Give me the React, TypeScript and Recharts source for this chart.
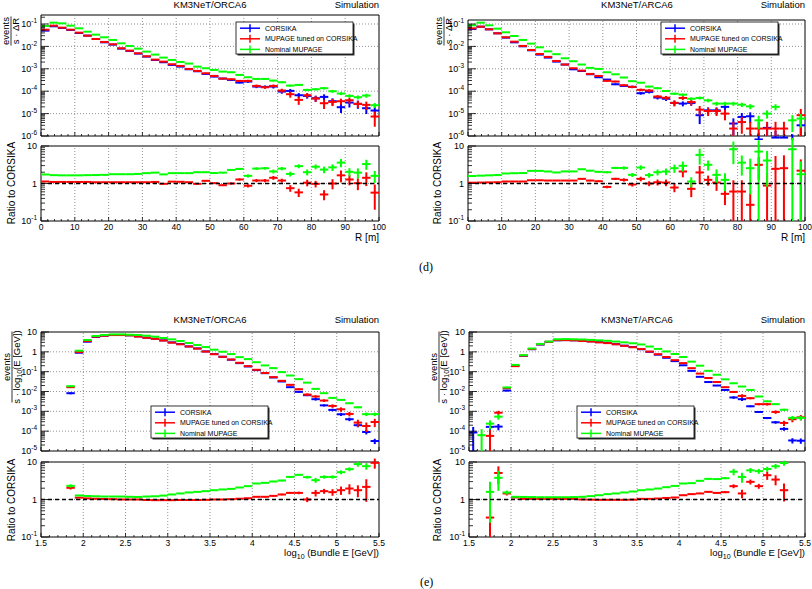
import React from "react";
import { ScatterChart, Scatter, XAxis, YAxis, ErrorBar, ReferenceLine, ReferenceArea } from "recharts";

const FONT = "'Liberation Sans', Arial, sans-serif";
const BLUE = "#0000ff";
const RED = "#ff0000";
const GREEN = "#00ff00";

// bin centres
const rCenters = [1.25, 3.75, 6.25, 8.75, 11.25, 13.75, 16.25, 18.75, 21.25, 23.75, 26.25, 28.75, 31.25, 33.75, 36.25, 38.75, 41.25, 43.75, 46.25, 48.75, 51.25, 53.75, 56.25, 58.75, 61.25, 63.75, 66.25, 68.75, 71.25, 73.75, 76.25, 78.75, 81.25, 83.75, 86.25, 88.75, 91.25, 93.75, 96.25, 98.75];
const eCenters = [1.55, 1.65, 1.75, 1.85, 1.95, 2.05, 2.15, 2.25, 2.35, 2.45, 2.55, 2.65, 2.75, 2.85, 2.95, 3.05, 3.15, 3.25, 3.35, 3.45, 3.55, 3.65, 3.75, 3.85, 3.95, 4.05, 4.15, 4.25, 4.35, 4.45, 4.55, 4.65, 4.75, 4.85, 4.95, 5.05, 5.15, 5.25, 5.35, 5.45];

// axis ticks
const rMajor = [0, 10, 20, 30, 40, 50, 60, 70, 80, 90, 100];
const eMajor = [1.5, 2, 2.5, 3, 3.5, 4, 4.5, 5, 5.5];

// ---- ORCA6, lateral distance R ----
const orcaRCorsika = [0.0505, 0.0787, 0.0663, 0.0541, 0.0397, 0.0302, 0.0214, 0.0152, 0.012, 0.00795, 0.00626, 0.00476, 0.0035, 0.00248, 0.00196, 0.00149, 0.00125, 0.000953, 0.000776, 0.00059, 0.000449, 0.000366, 0.000319, 0.000243, 0.000269, 0.000161, 0.000156, 0.000161, 9.64e-5, 0.000103, 6.61e-5, 6.17e-5, 4.86e-5, 5.57e-5, 3.57e-5, 1.93e-5, 3.11e-5, 2.72e-5, 1.74e-5, 1.37e-5];
const orcaRTuned = [0.0559, 0.0843, 0.0687, 0.0559, 0.0411, 0.0302, 0.0214, 0.0158, 0.0124, 0.00822, 0.00648, 0.00492, 0.00362, 0.00257, 0.00209, 0.00159, 0.00134, 0.000986, 0.000803, 0.000632, 0.000481, 0.000366, 0.000341, 0.000288, 0.000288, 0.000172, 0.00015, 0.000172, 0.000107, 7.33e-5, 4.09e-5, 6.61e-5, 4.7e-5, 2.91e-5, 3.33e-5, 3.57e-5, 3.95e-5, 2.72e-5, 2.45e-5, 7.4e-6];
const orcaRNominal = [0.0815, 0.1146, 0.107, 0.0843, 0.0641, 0.0455, 0.0335, 0.0255, 0.0194, 0.0137, 0.01045, 0.00795, 0.00585, 0.0043, 0.00316, 0.00248, 0.00202, 0.00171, 0.00125, 0.00106, 0.00089, 0.00075, 0.0007, 0.000533, 0.000419, 0.000353, 0.000353, 0.000298, 0.000251, 0.000178, 0.000191, 0.000114, 0.000122, 0.000136, 9.97e-5, 7.85e-5, 6.17e-5, 5.38e-5, 6.39e-5, 2.37e-5];
const orcaRErrCorsika = [0.02, 0.02, 0.02, 0.02, 0.02, 0.02, 0.02, 0.02, 0.02, 0.02, 0.02, 0.02, 0.02, 0.02, 0.02, 0.02, 0.03, 0.03, 0.04, 0.05, 0.06, 0.07, 0.08, 0.09, 0.12, 0.15, 0.15, 0.18, 0.2, 0.22, 0.25, 0.25, 0.3, 0.3, 0.35, 0.45, 0.4, 0.4, 0.45, 0.5];
const orcaRErrTuned = [0.02, 0.02, 0.02, 0.02, 0.02, 0.02, 0.02, 0.02, 0.02, 0.02, 0.02, 0.02, 0.02, 0.02, 0.02, 0.02, 0.03, 0.03, 0.04, 0.05, 0.06, 0.07, 0.08, 0.09, 0.12, 0.15, 0.15, 0.15, 0.2, 0.3, 0.4, 0.25, 0.3, 0.45, 0.35, 0.3, 0.3, 0.35, 0.4, 0.65];
const orcaRErrNominal = [0.01, 0.01, 0.01, 0.01, 0.01, 0.01, 0.01, 0.01, 0.01, 0.01, 0.01, 0.01, 0.01, 0.01, 0.01, 0.01, 0.02, 0.02, 0.02, 0.03, 0.03, 0.04, 0.04, 0.05, 0.06, 0.07, 0.07, 0.08, 0.09, 0.1, 0.1, 0.12, 0.12, 0.12, 0.15, 0.15, 0.18, 0.2, 0.2, 0.25];
const orcaRRatioTuned = [1.13, 1.1, 1.1, 1.1, 1.1, 1.1, 1.08, 1.08, 1.08, 1.08, 1.08, 1.08, 1.08, 1.1, 0.98, 1.12, 1.11, 1.08, 0.98, 1.18, 1.02, 0.9, 1.0, 1.28, 0.87, 1.2, 1.2, 1.42, 1.2, 0.75, 0.58, 1.05, 0.98, 0.51, 1.0, 1.65, 1.28, 1.02, 1.42, 0.57];
const orcaRRatioNominal = [1.74, 1.67, 1.65, 1.65, 1.65, 1.67, 1.68, 1.7, 1.77, 1.77, 1.77, 1.8, 1.89, 1.95, 1.75, 1.89, 1.89, 1.89, 2.0, 2.0, 1.9, 1.95, 2.3, 2.45, 1.6, 2.5, 2.55, 2.1, 2.5, 1.8, 2.9, 2.0, 2.8, 2.35, 2.7, 3.6, 2.05, 1.95, 3.3, 1.6];
const orcaRRatioErrTuned = [0.01, 0.01, 0.01, 0.01, 0.01, 0.01, 0.01, 0.01, 0.01, 0.01, 0.01, 0.01, 0.02, 0.02, 0.02, 0.02, 0.02, 0.02, 0.03, 0.03, 0.04, 0.05, 0.06, 0.07, 0.1, 0.1, 0.1, 0.12, 0.12, 0.2, 0.25, 0.2, 0.2, 0.3, 0.3, 0.35, 0.3, 0.35, 0.4, 0.65];
const orcaRRatioErrNominal = [0.01, 0.01, 0.01, 0.01, 0.01, 0.01, 0.01, 0.01, 0.01, 0.01, 0.01, 0.01, 0.02, 0.02, 0.02, 0.02, 0.02, 0.02, 0.03, 0.03, 0.04, 0.04, 0.05, 0.06, 0.1, 0.08, 0.08, 0.12, 0.1, 0.15, 0.12, 0.18, 0.15, 0.2, 0.2, 0.25, 0.25, 0.3, 0.3, 0.35];

// ---- ARCA6, lateral distance R ----
const arcaRCorsika = [0.0598, 0.076, 0.0578, 0.0384, 0.0246, 0.0152, 0.0101, 0.0067, 0.0043, 0.00316, 0.00209, 0.00155, 0.00095, 0.0008, 0.00057, 0.00042, 0.00033, 0.000204, 0.000172, 0.000156, 8.12e-5, 9.33e-5, 5.2e-5, 4.6e-5, 3.0e-5, 2.8e-5, 3.0e-5, 8.5e-6, 1.4e-5, 1.4e-5, 2.0e-5, 3.6e-6, 7.1e-6, 7.6e-6, 7e-7, 2.3e-6, 8.5e-7, 8.5e-7, 6e-7, 3.0e-6];
const arcaRTuned = [0.064, 0.076, 0.0578, 0.0384, 0.0255, 0.0163, 0.0105, 0.0069, 0.0046, 0.0034, 0.00224, 0.00155, 0.00106, 0.00083, 0.00059, 0.00048, 0.00029, 0.00027, 0.000185, 0.000156, 0.000115, 0.000107, 5.8e-5, 5.1e-5, 3.0e-5, 5.0e-5, 3.3e-5, 1.5e-5, 1.3e-5, 1.3e-5, 1.0e-5, 2.15e-6, 4.2e-6, 2.15e-6, 2.15e-6, 2.15e-6, 2.15e-6, 2.15e-6, null, 8.5e-6];
const arcaRNominal = [0.0873, 0.1147, 0.0873, 0.062, 0.0426, 0.0292, 0.0194, 0.0133, 0.0091, 0.006, 0.0045, 0.00295, 0.00218, 0.00155, 0.0011, 0.00099, 0.0007, 0.00057, 0.00041, 0.00028, 0.00024, 0.000161, 0.000136, 0.000102, 7.7e-5, 7.0e-5, 4.6e-5, 5.0e-5, 3.9e-5, 2.8e-5, 2.8e-5, 2.8e-5, 2.5e-5, 2.1e-5, 5.0e-6, 1.0e-5, 2.0e-5, null, 5.0e-6, 6.0e-6];
const arcaRErrCorsika = [0.02, 0.02, 0.02, 0.02, 0.02, 0.02, 0.02, 0.02, 0.02, 0.02, 0.02, 0.02, 0.03, 0.04, 0.05, 0.06, 0.07, 0.08, 0.1, 0.12, 0.14, 0.15, 0.18, 0.2, 0.25, 0.25, 0.25, 0.6, 0.35, 0.35, 0.3, 0.7, 0.5, 0.5, 1, 0.7, 1, 1, 1, 0.7];
const arcaRErrTuned = [0.02, 0.02, 0.02, 0.02, 0.02, 0.02, 0.02, 0.02, 0.02, 0.02, 0.02, 0.02, 0.03, 0.04, 0.05, 0.06, 0.07, 0.08, 0.1, 0.12, 0.13, 0.15, 0.16, 0.2, 0.3, 0.2, 0.3, 0.45, 0.4, 0.4, 0.5, 1, 0.7, 1, 1, 1, 1, 1, 0, 0.9];
const arcaRErrNominal = [0.01, 0.01, 0.01, 0.01, 0.01, 0.01, 0.01, 0.01, 0.01, 0.01, 0.01, 0.01, 0.02, 0.02, 0.03, 0.03, 0.04, 0.04, 0.05, 0.06, 0.07, 0.08, 0.09, 0.1, 0.12, 0.12, 0.15, 0.15, 0.18, 0.2, 0.2, 0.2, 0.22, 0.25, 0.6, 0.4, 0.3, 0, 0.7, 0.6];
const arcaRRatioTuned = [1.05, 1.06, 1.07, 1.08, 1.13, 1.13, 1.13, 1.22, 1.22, 1.2, 1.2, 1.2, 1.2, 1.33, 1.2, 1.15, 0.81, 1.33, 1.25, 0.94, 1.33, 1.0, 1.08, 1.06, 0.78, 2.09, 0.72, 1.97, 1.25, 1.06, 0.53, 0.61, 0.61, 0.27, 3.15, 0.88, 2.46, 2.56, null, 2.2];
const arcaRRatioNominal = [1.58, 1.62, 1.65, 1.68, 1.85, 1.88, 1.9, 2.17, 2.17, 2.09, 1.97, 2.1, 2.1, 2.4, 2.2, 2.05, 2.0, 2.6, 2.6, 1.7, 2.67, 1.67, 2.0, 2.09, 2.56, 2.96, 1.13, 5.8, 3.15, 1.7, 1.25, 8.2, 3.6, 2.56, 7.1, 4.1, null, null, 8.2, 1.77];
const arcaRRatioErrTuned = [0.02, 0.02, 0.02, 0.02, 0.02, 0.02, 0.02, 0.02, 0.02, 0.02, 0.02, 0.02, 0.03, 0.03, 0.04, 0.05, 0.08, 0.07, 0.1, 0.12, 0.14, 0.15, 0.18, 0.2, 0.25, 0.3, 0.4, 0.5, 0.3, 0.4, 0.5, 1, 1, 1, 0.6, 1, 1.2, 1.2, 0, 1];
const arcaRRatioErrNominal = [0.02, 0.02, 0.02, 0.02, 0.02, 0.02, 0.02, 0.02, 0.02, 0.02, 0.02, 0.02, 0.03, 0.03, 0.04, 0.05, 0.06, 0.07, 0.1, 0.12, 0.14, 0.15, 0.18, 0.2, 0.25, 0.3, 0.3, 0.45, 0.3, 0.4, 0.5, 0.6, 0.55, 0.8, 1, 0.8, 0, 0, 1, 1.2];

// ---- ORCA6, bundle energy ----
const orcaECorsika = [null, null, null, 0.0082, 0.9, 3.24, 5.58, 6.5, 7.05, 7.05, 6.8, 6.0, 5.2, 4.6, 3.8, 3.0, 2.47, 1.88, 1.49, 1.05, 0.77, 0.565, 0.4, 0.27, 0.183, 0.12, 0.084, 0.051, 0.032, 0.0165, 0.0096, 0.0065, 0.0041, 0.002, 0.00118, 0.00071, 0.0004, 0.0002, 9.1e-5, 3.18e-5];
const orcaETuned = [null, null, null, 0.0165, 0.97, 3.5, 5.8, 6.5, 7.0, 7.0, 6.8, 5.9, 5.1, 4.5, 3.7, 2.9, 2.4, 1.85, 1.45, 1.03, 0.76, 0.56, 0.41, 0.28, 0.19, 0.124, 0.086, 0.053, 0.0345, 0.0217, 0.013, 0.007, 0.0056, 0.0035, 0.00187, 0.00127, 0.00074, 0.00027, 0.000182, 0.00029];
const orcaENominal = [null, null, null, 0.0185, 1.14, 3.94, 6.3, 7.05, 7.6, 7.6, 7.3, 7.05, 6.5, 5.8, 4.97, 4.25, 3.5, 2.78, 2.2, 1.74, 1.28, 1.01, 0.77, 0.54, 0.43, 0.3, 0.206, 0.151, 0.095, 0.064, 0.042, 0.028, 0.0136, 0.0082, 0.00476, 0.00378, 0.00256, 0.0016, 0.00072, 0.00072];
const orcaEErrCorsika = [0, 0, 0, 0.12, 0.02, 0.01, 0.01, 0.01, 0.01, 0.01, 0.01, 0.01, 0.01, 0.01, 0.01, 0.01, 0.01, 0.01, 0.01, 0.01, 0.01, 0.01, 0.01, 0.01, 0.01, 0.02, 0.03, 0.04, 0.05, 0.06, 0.08, 0.1, 0.15, 0.12, 0.15, 0.18, 0.2, 0.22, 0.25, 0.3];
const orcaEErrTuned = [0, 0, 0, 0.08, 0.02, 0.01, 0.01, 0.01, 0.01, 0.01, 0.01, 0.01, 0.01, 0.01, 0.01, 0.01, 0.01, 0.01, 0.01, 0.01, 0.01, 0.01, 0.01, 0.01, 0.01, 0.02, 0.03, 0.04, 0.05, 0.07, 0.1, 0.15, 0.15, 0.15, 0.2, 0.25, 0.25, 0.4, 0.5, 0.45];
const orcaEErrNominal = [0, 0, 0, 0.06, 0.01, 0.01, 0.01, 0.01, 0.01, 0.01, 0.01, 0.01, 0.01, 0.01, 0.01, 0.01, 0.01, 0.01, 0.01, 0.01, 0.01, 0.01, 0.01, 0.01, 0.01, 0.01, 0.02, 0.02, 0.03, 0.03, 0.04, 0.05, 0.05, 0.06, 0.07, 0.08, 0.08, 0.1, 0.2, 0.2];
const orcaERatioTuned = [null, null, null, 2.05, 1.12, 1.07, 1.05, 1.03, 1.02, 1.0, 1.0, 1.0, 0.97, 0.96, 0.96, 0.96, 0.97, 0.97, 0.97, 0.98, 1.0, 1.0, 1.02, 1.05, 1.08, 1.18, 1.18, 1.25, 1.36, 1.5, 1.5, 1.0, 1.5, 1.67, 1.57, 1.77, 1.96, 1.77, 2.17, 9.5];
const orcaERatioNominal = [null, null, null, 2.31, 1.28, 1.24, 1.22, 1.2, 1.2, 1.2, 1.18, 1.17, 1.2, 1.22, 1.27, 1.36, 1.45, 1.54, 1.6, 1.67, 1.77, 1.85, 1.92, 2.09, 2.27, 2.67, 2.78, 3.02, 3.21, 4.0, 4.55, 3.94, 3.28, 4.0, 4.0, 5.35, 6.45, 8.8, 7.75, null];
const orcaERatioErrTuned = [0, 0, 0, 0.1, 0.02, 0.01, 0.01, 0.01, 0.01, 0.01, 0.01, 0.01, 0.01, 0.01, 0.01, 0.01, 0.01, 0.01, 0.01, 0.01, 0.01, 0.01, 0.01, 0.01, 0.01, 0.02, 0.03, 0.04, 0.05, 0.06, 0.08, 0.15, 0.2, 0.15, 0.2, 0.25, 0.3, 0.35, 0.6, 0.3];
const orcaERatioErrNominal = [0, 0, 0, 0.1, 0.02, 0.01, 0.01, 0.01, 0.01, 0.01, 0.01, 0.01, 0.01, 0.01, 0.01, 0.01, 0.01, 0.01, 0.01, 0.01, 0.01, 0.01, 0.01, 0.01, 0.01, 0.02, 0.03, 0.04, 0.05, 0.05, 0.06, 0.08, 0.15, 0.1, 0.1, 0.12, 0.12, 0.15, 0.2, 0];

// ---- ARCA6, bundle energy ----
const arcaECorsika = [8.6e-5, null, 1.65e-4, 1.7e-4, 0.0112, 0.2, 0.63, 1.36, 2.33, 3.16, 3.8, 3.9, 3.8, 3.6, 3.4, 3.1, 2.85, 2.45, 2.05, 1.75, 1.35, 1.0, 0.72, 0.5, 0.34, 0.21, 0.11, 0.055, 0.03, 0.02, 0.012, 0.005, 0.0041, 0.0018, 0.00093, 0.00046, 0.00028, 0.00013, 3.4e-5, 3.3e-5];
const arcaETuned = [null, null, 5.8e-5, 8.5e-4, 0.0147, 0.19, 0.64, 1.38, 2.4, 3.2, 3.9, 3.9, 3.8, 3.5, 3.3, 3.0, 2.75, 2.4, 2.0, 1.7, 1.38, 1.03, 0.76, 0.55, 0.38, 0.27, 0.15, 0.08, 0.048, 0.03, 0.0165, 0.0095, 0.006, 0.0046, 0.0023, 0.0023, 0.00093, 0.00026, 0.0004, 0.0005];
const arcaENominal = [null, 6.3e-5, 2.4e-4, 5.4e-4, 0.016, 0.22, 0.68, 1.47, 2.5, 3.3, 4.3, 4.4, 4.3, 4.2, 4.0, 3.8, 3.6, 3.3, 3.0, 2.7, 2.35, 1.85, 1.4, 1.05, 0.78, 0.55, 0.32, 0.2, 0.11, 0.07, 0.041, 0.026, 0.0178, 0.012, 0.0056, 0.0032, 0.0023, 0.0012, 0.00047, 0.00047];
const arcaEErrCorsika = [0.9, 0, 0.35, 0.35, 0.1, 0.02, 0.01, 0.01, 0.01, 0.01, 0.01, 0.01, 0.01, 0.01, 0.01, 0.01, 0.01, 0.01, 0.01, 0.01, 0.01, 0.01, 0.01, 0.01, 0.01, 0.02, 0.03, 0.04, 0.05, 0.06, 0.08, 0.15, 0.2, 0.1, 0.1, 0.12, 0.15, 0.2, 0.3, 0.3];
const arcaEErrTuned = [0, 0, 1, 0.25, 0.08, 0.03, 0.01, 0.01, 0.01, 0.01, 0.01, 0.01, 0.01, 0.01, 0.01, 0.01, 0.01, 0.01, 0.01, 0.01, 0.01, 0.01, 0.01, 0.01, 0.01, 0.02, 0.03, 0.04, 0.05, 0.06, 0.08, 0.12, 0.2, 0.12, 0.12, 0.15, 0.2, 0.3, 0.3, 0.3];
const arcaEErrNominal = [0, 1, 0.5, 0.3, 0.08, 0.02, 0.01, 0.01, 0.01, 0.01, 0.01, 0.01, 0.01, 0.01, 0.01, 0.01, 0.01, 0.01, 0.01, 0.01, 0.01, 0.01, 0.01, 0.01, 0.01, 0.01, 0.02, 0.02, 0.03, 0.03, 0.04, 0.05, 0.06, 0.06, 0.07, 0.08, 0.1, 0.12, 0.25, 0.25];
const arcaERatioTuned = [null, null, 0.33, 5.1, 1.45, 1.13, 1.04, 1.04, 1.04, 1.04, 1.04, 1.04, 1.04, 1.0, 0.99, 0.98, 0.98, 0.98, 0.98, 0.99, 1.04, 1.04, 1.06, 1.1, 1.13, 1.3, 1.39, 1.45, 1.6, 1.5, 1.57, 2.27, 1.45, 2.96, 2.27, 4.45, 3.4, 1.77, null, null];
const arcaERatioNominal = [null, null, 1.6, 3.78, 1.54, 1.18, 1.17, 1.16, 1.15, 1.15, 1.15, 1.15, 1.16, 1.18, 1.23, 1.3, 1.39, 1.45, 1.54, 1.63, 1.77, 1.85, 1.96, 2.13, 2.3, 2.67, 2.73, 3.15, 3.55, 3.5, 3.7, 5.5, 4.0, 6.0, 5.7, 6.5, 7.7, 9.4, null, null];
const arcaERatioErrTuned = [0, 0, 1, 0.5, 0.12, 0.03, 0.01, 0.01, 0.01, 0.01, 0.01, 0.01, 0.01, 0.01, 0.01, 0.01, 0.01, 0.01, 0.01, 0.01, 0.01, 0.01, 0.01, 0.01, 0.01, 0.02, 0.03, 0.04, 0.05, 0.05, 0.06, 0.12, 0.25, 0.15, 0.15, 0.25, 0.3, 0.5, 0, 0];
const arcaERatioErrNominal = [0, 0, 0.85, 0.55, 0.12, 0.03, 0.01, 0.01, 0.01, 0.01, 0.01, 0.01, 0.01, 0.01, 0.01, 0.01, 0.01, 0.01, 0.01, 0.01, 0.01, 0.01, 0.01, 0.01, 0.01, 0.02, 0.03, 0.04, 0.05, 0.05, 0.06, 0.2, 0.3, 0.15, 0.15, 0.15, 0.15, 0.15, 0, 0];

type Pt = { x: number; y: number; ex: number; ey: [number, number] };
type Series = { color: string; data: Pt[] };

// histogram points with half-bin x error and symmetric y error, kept above the axis floor
function hist(xs: number[], half: number, vals: (number | null)[], rel: number[], yMin: number): Pt[] {
  const out: Pt[] = [];
  vals.forEach((v, i) => {
    if (v == null) return;
    const e = v * (rel[i] || 0);
    const lo = Math.max(0, Math.min(e, v - yMin * 1.0001));
    out.push({ x: xs[i], y: v, ex: half, ey: [lo, e] });
  });
  return out;
}

function logTicks(lo: number, hi: number) {
  const major: number[] = [];
  const minor: number[] = [];
  for (let k = Math.floor(Math.log10(lo)); k <= Math.ceil(Math.log10(hi)); k++) {
    const b = Math.pow(10, k);
    if (b >= lo * 0.999 && b <= hi * 1.001) major.push(b);
    for (let m = 2; m <= 9; m++) {
      const v = m * b;
      if (v > lo && v < hi) minor.push(v);
    }
  }
  return { major, minor };
}

function linMinor(lo: number, hi: number, step: number, majors: number[]) {
  const out: number[] = [];
  const n = Math.round((hi - lo) / step);
  for (let i = 1; i < n; i++) {
    const v = +(lo + i * step).toFixed(4);
    if (!majors.some((m) => Math.abs(m - v) < 1e-6)) out.push(v);
  }
  return out;
}

const isMajor = (v: number, majors: number[]) => majors.some((m) => Math.abs(m - v) <= Math.abs(m) * 1e-6 + 1e-12);

function logLabel(v: number) {
  const k = Math.round(Math.log10(v));
  if (k === 0) return "1";
  if (k === 1) return "10";
  return [
    <tspan key="b">10</tspan>,
    <tspan key="e" dy={-4} fontSize={6.5}>{k}</tspan>,
  ];
}

function YTick(props: any) {
  const { x, y, payload, majors } = props;
  const v = payload.value;
  const major = isMajor(v, majors);
  const ax = x + 4;
  return (
    <g>
      <line x1={ax} x2={ax + (major ? 8 : 4)} y1={y} y2={y} stroke="#000" strokeWidth={0.8} />
      {major && (
        <text x={x} y={y} dy="0.35em" textAnchor="end" fontSize={9} fontFamily={FONT} fill="#000">
          {logLabel(v)}
        </text>
      )}
    </g>
  );
}

function XTick(props: any) {
  const { x, y, payload, majors, labels } = props;
  const v = payload.value;
  const major = isMajor(v, majors);
  const ay = y - 4;
  return (
    <g>
      <line x1={x} x2={x} y1={ay} y2={ay - (major ? 4 : 2)} stroke="#000" strokeWidth={0.8} />
      {labels && major && (
        <text x={x} y={y + 4.5} textAnchor="middle" fontSize={8.5} fontFamily={FONT} fill="#000">
          {String(v)}
        </text>
      )}
    </g>
  );
}

interface HistProps {
  left: number;
  top: number;
  w: number;
  h: number;
  xDomain: [number, number];
  xMajor: number[];
  xMinor: number[];
  xLabels?: boolean;
  yDomain: [number, number];
  series: Series[];
  unity?: boolean;
}

function HistPad({ left, top, w, h, xDomain, xMajor, xMinor, xLabels, yDomain, series, unity }: HistProps) {
  const yAxisW = 40;
  const mTop = 8;
  const mRight = 8;
  const xAxisH = xLabels ? 14 : 4;
  const { major: yMajor, minor: yMinor } = logTicks(yDomain[0], yDomain[1]);
  const gridX = xMajor.filter((v) => v > xDomain[0] && v < xDomain[1]);
  const gridY = yMajor.filter((v) => v > yDomain[0] * 1.001 && v < yDomain[1] * 0.999);
  return (
    <div style={{ position: "absolute", left: left - yAxisW, top: top - mTop }}>
      <ScatterChart
        width={yAxisW + w + mRight}
        height={mTop + h + xAxisH}
        margin={{ top: mTop, right: mRight, bottom: 0, left: 0 }}
      >
        <XAxis
          type="number"
          dataKey="x"
          domain={xDomain}
          allowDataOverflow
          ticks={[...xMajor, ...xMinor]}
          interval={0}
          tickLine={false}
          axisLine={false}
          tickSize={0}
          tickMargin={4}
          height={xAxisH}
          tick={(p: any) => <XTick {...p} majors={xMajor} labels={!!xLabels} />}
        />
        <YAxis
          type="number"
          dataKey="y"
          scale="log"
          domain={yDomain}
          allowDataOverflow
          ticks={[...yMajor, ...yMinor]}
          interval={0}
          tickLine={false}
          axisLine={false}
          tickSize={0}
          tickMargin={4}
          width={yAxisW}
          tick={(p: any) => <YTick {...p} majors={yMajor} />}
        />
        {gridX.map((v) => (
          <ReferenceLine key={"gx" + v} x={v} stroke="#777" strokeWidth={0.8} strokeDasharray="1 2" />
        ))}
        {gridY.map((v) => (
          <ReferenceLine key={"gy" + v} y={v} stroke="#777" strokeWidth={0.8} strokeDasharray="1 2" />
        ))}
        {series.map((s, i) => (
          <Scatter key={i} data={s.data} isAnimationActive={false} shape={() => <g />}>
            <ErrorBar dataKey="ex" direction="x" width={0} stroke={s.color} strokeWidth={2} isAnimationActive={false} />
            <ErrorBar dataKey="ey" direction="y" width={0} stroke={s.color} strokeWidth={2} isAnimationActive={false} />
          </Scatter>
        ))}
        {unity && <ReferenceLine y={1} stroke="#000" strokeWidth={1.5} strokeDasharray="4 3" />}
        <ReferenceArea
          x1={xDomain[0]}
          x2={xDomain[1]}
          y1={yDomain[0]}
          y2={yDomain[1]}
          fill="none"
          stroke="#000"
          strokeWidth={1}
          ifOverflow="visible"
        />
      </ScatterChart>
    </div>
  );
}

function LegendBox({ x, y }: { x: number; y: number }) {
  const w = 117;
  const h = 32;
  const rows = [
    { c: BLUE, t: "CORSIKA" },
    { c: RED, t: "MUPAGE tuned on CORSIKA" },
    { c: GREEN, t: "Nominal MUPAGE" },
  ];
  return (
    <g>
      <rect x={x + 1.5} y={y + 1.5} width={w} height={h} fill="#333" />
      <rect x={x} y={y} width={w} height={h} fill="#fff" stroke="#000" strokeWidth={0.8} />
      {rows.map((r, i) => {
        const cy = y + 6.2 + i * 10.6;
        return (
          <g key={i}>
            <line x1={x + 4} x2={x + 24} y1={cy} y2={cy} stroke={r.c} strokeWidth={1.5} />
            <line x1={x + 14} x2={x + 14} y1={cy - 4} y2={cy + 4} stroke={r.c} strokeWidth={1.5} />
            <text x={x + 29} y={cy} dy="0.35em" fontSize={7} fontFamily={FONT} fill="#000">
              {r.t}
            </text>
          </g>
        );
      })}
    </g>
  );
}

function FracLabel({ cx, cy, bar, den }: { cx: number; cy: number; bar: number; den: React.ReactNode }) {
  return (
    <g transform={`translate(${cx},${cy}) rotate(-90)`} fontFamily={FONT} fontSize={9.5} fill="#000">
      <text x={0} y={-2.5} textAnchor="middle">events</text>
      <line x1={-bar / 2} x2={bar / 2} y1={0} y2={0} stroke="#000" strokeWidth={0.8} />
      <text x={0} y={7.5} textAnchor="middle">{den}</text>
    </g>
  );
}

function RotLabel({ cx, cy, text }: { cx: number; cy: number; text: string }) {
  return (
    <text transform={`translate(${cx},${cy}) rotate(-90)`} textAnchor="middle" fontSize={10} fontFamily={FONT} fill="#000">
      {text}
    </text>
  );
}

const energyDen = (
  <>
    s · log<tspan dy={2} fontSize={7}>10</tspan>
    <tspan dy={-2}>(E [GeV])</tspan>
  </>
);

function EnergyXLabel({ x }: { x: number }) {
  return (
    <text x={x} y={556} textAnchor="end" fontSize={9.5} fontFamily={FONT} fill="#000">
      log<tspan dy={2.5} fontSize={7}>10</tspan>
      <tspan dy={-2.5}> (Bundle E [GeV])</tspan>
    </text>
  );
}

export default function App() {
  const rMinor = linMinor(0, 100, 2, rMajor);
  const eMinor = linMinor(1.5, 5.5, 0.1, eMajor);

  const padsR = [
    { left: 41, topU: 15, hU: 121, w: 338, yMaxU: 0.252, up: [orcaRCorsika, orcaRTuned, orcaRNominal], upErr: [orcaRErrCorsika, orcaRErrTuned, orcaRErrNominal], ratio: [orcaRRatioTuned, orcaRRatioNominal], ratioErr: [orcaRRatioErrTuned, orcaRRatioErrNominal] },
    { left: 468, topU: 20, hU: 116, w: 337, yMaxU: 0.151, up: [arcaRCorsika, arcaRTuned, arcaRNominal], upErr: [arcaRErrCorsika, arcaRErrTuned, arcaRErrNominal], ratio: [arcaRRatioTuned, arcaRRatioNominal], ratioErr: [arcaRRatioErrTuned, arcaRRatioErrNominal] },
  ];
  const padsE = [
    { left: 41, w: 338, up: [orcaECorsika, orcaETuned, orcaENominal], upErr: [orcaEErrCorsika, orcaEErrTuned, orcaEErrNominal], ratio: [orcaERatioTuned, orcaERatioNominal], ratioErr: [orcaERatioErrTuned, orcaERatioErrNominal] },
    { left: 469, w: 336, up: [arcaECorsika, arcaETuned, arcaENominal], upErr: [arcaEErrCorsika, arcaEErrTuned, arcaEErrNominal], ratio: [arcaERatioTuned, arcaERatioNominal], ratioErr: [arcaERatioErrTuned, arcaERatioErrNominal] },
  ];
  const upColors = [BLUE, RED, GREEN];
  const ratioColors = [RED, GREEN];

  return (
    <div style={{ position: "absolute", left: 0, top: 0, width: 812, height: 589, background: "#fff", overflow: "hidden", fontFamily: FONT }}>
      {padsR.map((p, i) => (
        <React.Fragment key={"r" + i}>
          <HistPad
            left={p.left}
            top={p.topU}
            w={p.w}
            h={p.hU}
            xDomain={[0, 100]}
            xMajor={rMajor}
            xMinor={rMinor}
            yDomain={[1e-6, p.yMaxU]}
            series={p.up.map((vals, j) => ({ color: upColors[j], data: hist(rCenters, 1.25, vals, p.upErr[j], 1e-6) }))}
          />
          <HistPad
            left={p.left}
            top={146}
            w={p.w}
            h={75}
            xDomain={[0, 100]}
            xMajor={rMajor}
            xMinor={rMinor}
            xLabels
            yDomain={[0.1, 10]}
            unity
            series={p.ratio.map((vals, j) => ({ color: ratioColors[j], data: hist(rCenters, 1.25, vals, p.ratioErr[j], 0.1) }))}
          />
        </React.Fragment>
      ))}
      {padsE.map((p, i) => (
        <React.Fragment key={"e" + i}>
          <HistPad
            left={p.left}
            top={332}
            w={p.w}
            h={119}
            xDomain={[1.5, 5.5]}
            xMajor={eMajor}
            xMinor={eMinor}
            yDomain={[1e-5, 10]}
            series={p.up.map((vals, j) => ({ color: upColors[j], data: hist(eCenters, 0.05, vals, p.upErr[j], 1e-5) }))}
          />
          <HistPad
            left={p.left}
            top={462}
            w={p.w}
            h={75}
            xDomain={[1.5, 5.5]}
            xMajor={eMajor}
            xMinor={eMinor}
            xLabels
            yDomain={[0.1, 10]}
            unity
            series={p.ratio.map((vals, j) => ({ color: ratioColors[j], data: hist(eCenters, 0.05, vals, p.ratioErr[j], 0.1) }))}
          />
        </React.Fragment>
      ))}

      <svg width={812} height={589} style={{ position: "absolute", left: 0, top: 0, pointerEvents: "none" }}>
        <g fontFamily={FONT} fontSize={9.5} fill="#000">
          <text x={210} y={8} textAnchor="middle">KM3NeT/ORCA6</text>
          <text x={379} y={8} textAnchor="end">Simulation</text>
          <text x={637} y={8} textAnchor="middle">KM3NeT/ARCA6</text>
          <text x={805} y={8} textAnchor="end">Simulation</text>
          <text x={210} y={323} textAnchor="middle">KM3NeT/ORCA6</text>
          <text x={379} y={323} textAnchor="end">Simulation</text>
          <text x={637} y={323} textAnchor="middle">KM3NeT/ARCA6</text>
          <text x={805} y={323} textAnchor="end">Simulation</text>
        </g>

        <LegendBox x={236} y={22} />
        <LegendBox x={661} y={22} />
        <LegendBox x={151} y={406} />
        <LegendBox x={577} y={406} />

        <FracLabel cx={11} cy={31} bar={29} den="s · ΔR" />
        <FracLabel cx={444} cy={31} bar={29} den="s · ΔR" />
        <FracLabel cx={12} cy={367} bar={71} den={energyDen} />
        <FracLabel cx={439} cy={367} bar={71} den={energyDen} />

        <RotLabel cx={15} cy={183} text="Ratio to CORSIKA" />
        <RotLabel cx={441} cy={183} text="Ratio to CORSIKA" />
        <RotLabel cx={15} cy={500} text="Ratio to CORSIKA" />
        <RotLabel cx={441} cy={500} text="Ratio to CORSIKA" />

        <text x={379} y={241} textAnchor="end" fontSize={10} fontFamily={FONT}>R [m]</text>
        <text x={805} y={241} textAnchor="end" fontSize={10} fontFamily={FONT}>R [m]</text>
        <EnergyXLabel x={379} />
        <EnergyXLabel x={805} />

        <g fontFamily="'Liberation Serif', 'DejaVu Serif', serif" fontSize={12} fill="#000">
          <text x={419} y={271}>(d)</text>
          <text x={420} y={586}>(e)</text>
        </g>
      </svg>
    </div>
  );
}
